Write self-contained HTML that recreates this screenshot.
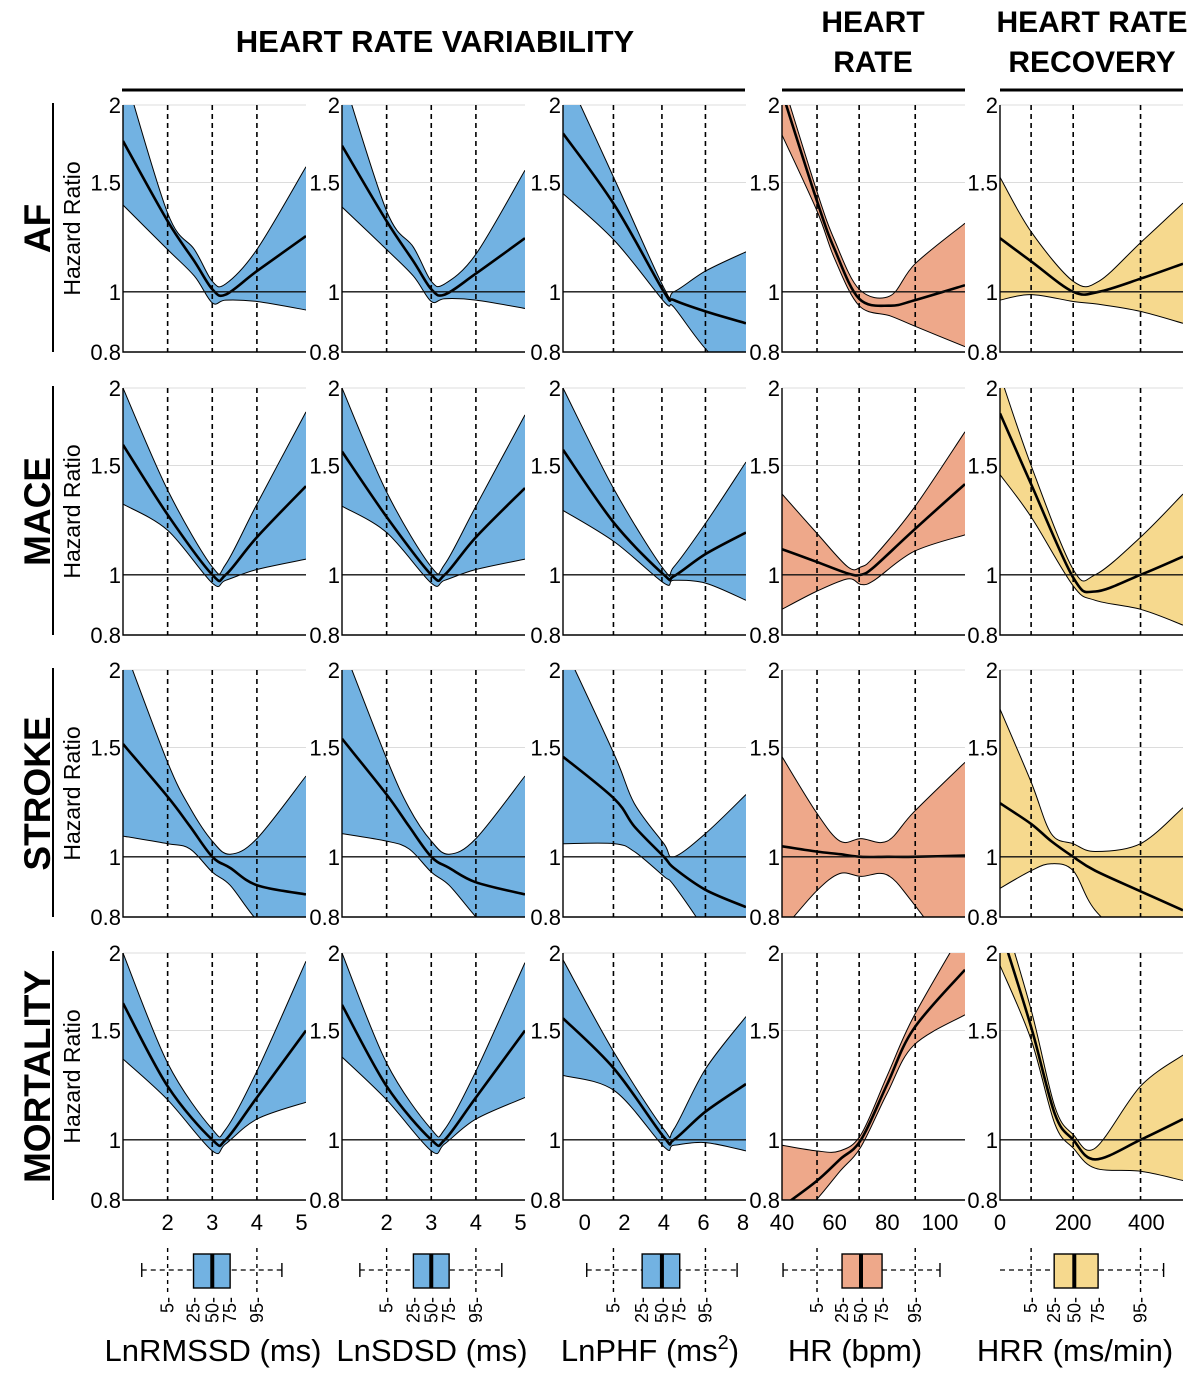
<!DOCTYPE html>
<html><head><meta charset="utf-8"><style>
html,body{margin:0;padding:0;background:#fff;}
svg{display:block;font-family:"Liberation Sans",Arial,sans-serif;}
</style></head><body>
<svg id="fig" width="1200" height="1373" viewBox="0 0 1200 1373"></svg>
<script>
// ---------- data (hazard ratios) ----------
// AF row
const AF_RMSSD_x=[1.0,2,2.6,3,3.3,4,5.1];
const AF_RMSSD_hr=[1.75,1.30,1.12,1.01,0.99,1.08,1.23];
const AF_RMSSD_lo=[1.38,1.17,1.06,0.96,0.97,0.965,0.935];
const AF_RMSSD_hi=[2.3,1.34,1.17,1.04,1.03,1.17,1.59];
const AF_SDSD_x=[1.0,2,2.6,3,3.3,4,5.1];
const AF_SDSD_hr=[1.72,1.30,1.12,1.01,0.99,1.07,1.22];
const AF_SDSD_lo=[1.37,1.17,1.06,0.965,0.975,0.97,0.94];
const AF_SDSD_hi=[2.25,1.35,1.18,1.04,1.03,1.15,1.57];
const AF_PHF_x=[-1.1,1.5,4,4.5,6.1,8.15];
const AF_PHF_hr=[1.80,1.38,1.0,0.97,0.93,0.89];
const AF_PHF_lo=[1.44,1.21,0.965,0.945,0.81,0.70];
const AF_PHF_hi=[2.3,1.52,1.015,1.0,1.08,1.16];
const AF_HR_x=[40,53.3,60,69.3,81,90.6,109.5];
const AF_HR_hr=[2.1,1.40,1.17,0.975,0.95,0.97,1.025];
const AF_HR_lo=[1.79,1.35,1.13,0.95,0.915,0.88,0.816];
const AF_HR_hi=[2.2,1.45,1.21,1.01,0.985,1.11,1.29];
const AF_HRR_x=[0,85,200,270,384,500];
const AF_HRR_hr=[1.22,1.12,1.0,1.0,1.05,1.11];
const AF_HRR_lo=[0.97,0.99,0.965,0.955,0.93,0.89];
const AF_HRR_hi=[1.53,1.25,1.04,1.04,1.2,1.39];
// MACE row
const MACE_RMSSD_x=[1.0,2,3,3.3,4,5.1];
const MACE_RMSSD_hr=[1.62,1.25,1.0,1.0,1.15,1.39];
const MACE_RMSSD_lo=[1.30,1.18,0.97,0.98,1.02,1.06];
const MACE_RMSSD_hi=[2.0,1.37,1.03,1.04,1.30,1.83];
const MACE_SDSD_x=[1.0,2,3,3.3,4,5.1];
const MACE_SDSD_hr=[1.58,1.24,1.0,1.0,1.15,1.38];
const MACE_SDSD_lo=[1.29,1.17,0.97,0.98,1.02,1.06];
const MACE_SDSD_hi=[2.0,1.36,1.03,1.04,1.29,1.81];
const MACE_PHF_x=[-1.1,1.5,4,4.5,6.1,8.15];
const MACE_PHF_hr=[1.59,1.21,1.0,0.995,1.08,1.17];
const MACE_PHF_lo=[1.27,1.13,0.97,0.98,0.97,0.91];
const MACE_PHF_hi=[2.0,1.37,1.02,1.03,1.21,1.52];
const MACE_HR_x=[40,53,65,70,75,90,109.5];
const MACE_HR_hr=[1.10,1.05,1.005,1.0,1.03,1.18,1.40];
const MACE_HR_lo=[0.88,0.94,0.985,0.965,0.98,1.09,1.16];
const MACE_HR_hi=[1.35,1.17,1.03,1.03,1.07,1.28,1.70];
const MACE_HRR_x=[0,85,200,260,384,500];
const MACE_HRR_hr=[1.82,1.40,0.99,0.94,1.0,1.07];
const MACE_HRR_lo=[1.45,1.24,0.96,0.91,0.88,0.83];
const MACE_HRR_hi=[2.1,1.50,1.02,1.0,1.15,1.35];
// STROKE row
const STROKE_RMSSD_x=[1.0,2,2.5,3,3.4,4,5.1];
const STROKE_RMSSD_hr=[1.52,1.25,1.12,1.0,0.96,0.90,0.87];
const STROKE_RMSSD_lo=[1.08,1.05,1.03,0.945,0.90,0.79,0.65];
const STROKE_RMSSD_hi=[2.2,1.42,1.2,1.06,1.01,1.07,1.35];
const STROKE_SDSD_x=[1.0,2,2.5,3,3.4,4,5.1];
const STROKE_SDSD_hr=[1.55,1.26,1.12,1.0,0.96,0.91,0.87];
const STROKE_SDSD_lo=[1.09,1.06,1.03,0.945,0.90,0.80,0.65];
const STROKE_SDSD_hi=[2.2,1.44,1.2,1.06,1.01,1.07,1.35];
const STROKE_PHF_x=[-1.1,1.5,2.5,4,4.5,6.1,8.15];
const STROKE_PHF_hr=[1.45,1.24,1.12,1.0,0.96,0.885,0.83];
const STROKE_PHF_lo=[1.05,1.05,1.02,0.93,0.90,0.76,0.6];
const STROKE_PHF_hi=[2.2,1.46,1.22,1.05,1.0,1.09,1.26];
const STROKE_HR_x=[40,53,62,70,80,90,109.5];
const STROKE_HR_hr=[1.04,1.02,1.01,1.0,1.0,1.0,1.005];
const STROKE_HR_lo=[0.76,0.88,0.94,0.93,0.935,0.84,0.65];
const STROKE_HR_hi=[1.45,1.18,1.06,1.07,1.06,1.18,1.42];
const STROKE_HRR_x=[0,85,140,200,260,384,500];
const STROKE_HRR_hr=[1.22,1.13,1.06,1.0,0.95,0.88,0.82];
const STROKE_HRR_lo=[0.89,0.95,0.975,0.95,0.82,0.7,0.6];
const STROKE_HRR_hi=[1.73,1.32,1.09,1.05,1.02,1.05,1.2];
// MORTALITY row
const MORT_RMSSD_x=[1.0,2,3,3.3,4,5.1];
const MORT_RMSSD_hr=[1.66,1.22,1.0,1.0,1.17,1.50];
const MORT_RMSSD_lo=[1.35,1.16,0.96,0.985,1.08,1.15];
const MORT_RMSSD_hi=[2.0,1.33,1.04,1.04,1.29,1.94];
const MORT_SDSD_x=[1.0,2,3,3.3,4,5.1];
const MORT_SDSD_hr=[1.65,1.22,1.0,1.0,1.17,1.50];
const MORT_SDSD_lo=[1.36,1.16,0.96,0.985,1.08,1.17];
const MORT_SDSD_hi=[2.0,1.33,1.04,1.04,1.29,1.93];
const MORT_PHF_x=[-1.1,1.5,4,4.5,6.1,8.15];
const MORT_PHF_hr=[1.57,1.30,1.01,1.0,1.11,1.23];
const MORT_PHF_lo=[1.27,1.2,0.975,0.98,0.99,0.96];
const MORT_PHF_hi=[1.95,1.38,1.04,1.04,1.30,1.58];
const MORT_HR_x=[40,53,62,70,80,90,109.5];
const MORT_HR_hr=[0.78,0.857,0.93,1.0,1.23,1.51,1.88];
const MORT_HR_lo=[0.70,0.8,0.89,0.975,1.19,1.42,1.59];
const MORT_HR_hi=[0.98,0.96,0.96,1.02,1.27,1.58,2.2];
const MORT_HRR_x=[0,85,150,200,260,384,500];
const MORT_HRR_hr=[2.2,1.52,1.1,1.0,0.93,1.0,1.08];
const MORT_HRR_lo=[1.91,1.45,1.06,0.97,0.9,0.89,0.86];
const MORT_HRR_hi=[2.4,1.62,1.13,1.02,0.97,1.22,1.37];

// column axis info
const colNames=["LnRMSSD","LnSDSD","LnPHF","HR","HRR"];
const colDomains=[[1.0,5.1],[1.0,5.1],[-1.1,8.15],[40,109.5],[0,500]];
const colTicks=[[2,3,4,5],[2,3,4,5],[0,2,4,6,8],[40,60,80,100],[0,200,400]];
const colPct=[[2.0,3.0,4.0],[2.0,3.0,4.0],[1.45,3.9,6.1],[53.3,69.3,90.6],[85,200,384]];
const colBox=[[1.42,2.58,3.0,3.4,4.56],[1.4,2.6,3.0,3.4,4.58],[0.1,2.9,3.9,4.8,7.7],[40.4,62.8,70,78,100],[0,148,203,268,447]];
const rowNames=["AF","MACE","STROKE","MORTALITY"];
const yTicks=[2,1.5,1,0.8];
const yTickLabels=["2","1.5","1","0.8"];
const boxLabels=["5","25","50","75","95"];

const panels=[
 [[AF_RMSSD_x,AF_RMSSD_hr,AF_RMSSD_lo,AF_RMSSD_hi],[AF_SDSD_x,AF_SDSD_hr,AF_SDSD_lo,AF_SDSD_hi],[AF_PHF_x,AF_PHF_hr,AF_PHF_lo,AF_PHF_hi],[AF_HR_x,AF_HR_hr,AF_HR_lo,AF_HR_hi],[AF_HRR_x,AF_HRR_hr,AF_HRR_lo,AF_HRR_hi]],
 [[MACE_RMSSD_x,MACE_RMSSD_hr,MACE_RMSSD_lo,MACE_RMSSD_hi],[MACE_SDSD_x,MACE_SDSD_hr,MACE_SDSD_lo,MACE_SDSD_hi],[MACE_PHF_x,MACE_PHF_hr,MACE_PHF_lo,MACE_PHF_hi],[MACE_HR_x,MACE_HR_hr,MACE_HR_lo,MACE_HR_hi],[MACE_HRR_x,MACE_HRR_hr,MACE_HRR_lo,MACE_HRR_hi]],
 [[STROKE_RMSSD_x,STROKE_RMSSD_hr,STROKE_RMSSD_lo,STROKE_RMSSD_hi],[STROKE_SDSD_x,STROKE_SDSD_hr,STROKE_SDSD_lo,STROKE_SDSD_hi],[STROKE_PHF_x,STROKE_PHF_hr,STROKE_PHF_lo,STROKE_PHF_hi],[STROKE_HR_x,STROKE_HR_hr,STROKE_HR_lo,STROKE_HR_hi],[STROKE_HRR_x,STROKE_HRR_hr,STROKE_HRR_lo,STROKE_HRR_hi]],
 [[MORT_RMSSD_x,MORT_RMSSD_hr,MORT_RMSSD_lo,MORT_RMSSD_hi],[MORT_SDSD_x,MORT_SDSD_hr,MORT_SDSD_lo,MORT_SDSD_hi],[MORT_PHF_x,MORT_PHF_hr,MORT_PHF_lo,MORT_PHF_hi],[MORT_HR_x,MORT_HR_hr,MORT_HR_lo,MORT_HR_hi],[MORT_HRR_x,MORT_HRR_hr,MORT_HRR_lo,MORT_HRR_hi]]
];

// ---------- layout ----------
const rowTop=[105,388,670,953];
const PH=247, PW=183;
const colLeft=[123,342,563,782,1000];
const fills=["#72b2e2","#72b2e2","#72b2e2","#eea88a","#f6d98e"];
const NS="http://www.w3.org/2000/svg";
const svg=document.getElementById("fig");
function mk(tag,attrs,parent){const e=document.createElementNS(NS,tag);for(const k in attrs)e.setAttribute(k,attrs[k]);(parent||svg).appendChild(e);return e;}
function xScale(c,v){const d=colDomains[c];return colLeft[c]+(v-d[0])/(d[1]-d[0])*PW;}
function yScale(r,hr){return rowTop[r]+PH-PH*Math.log(hr/0.8)/Math.log(2/0.8);}
function smooth(pts){let d="M"+pts[0][0].toFixed(1)+","+pts[0][1].toFixed(1);
 for(let i=0;i<pts.length-1;i++){const p0=pts[Math.max(0,i-1)],p1=pts[i],p2=pts[i+1],p3=pts[Math.min(pts.length-1,i+2)];
  const c1=[p1[0]+(p2[0]-p0[0])/6,p1[1]+(p2[1]-p0[1])/6],c2=[p2[0]-(p3[0]-p1[0])/6,p2[1]-(p3[1]-p1[1])/6];
  d+=" C"+c1[0].toFixed(1)+","+c1[1].toFixed(1)+" "+c2[0].toFixed(1)+","+c2[1].toFixed(1)+" "+p2[0].toFixed(1)+","+p2[1].toFixed(1);}
 return d;}
function txt(s,attrs,parent){const t=mk("text",attrs,parent);t.textContent=s;return t;}

const defs=mk("defs",{});
// headers
const h1=txt("HEART RATE VARIABILITY",{x:435,y:52,"text-anchor":"middle","font-size":31,"font-weight":"bold"});


const h2=mk("g",{"text-anchor":"middle","font-size":30,"font-weight":"bold"});


txt("HEART",{x:873,y:32},h2);txt("RATE",{x:873,y:72},h2);
const h3=mk("g",{"text-anchor":"middle","font-size":30,"font-weight":"bold"});


txt("HEART RATE",{x:1092,y:32},h3);txt("RECOVERY",{x:1092,y:72},h3);
[[122,745],[782,965],[1000,1183]].forEach(function(s){const l=mk("line",{x1:s[0],x2:s[1],y1:90,y2:90,stroke:"#000","stroke-width":3});
 
 });

// row labels
for(let r=0;r<4;r++){const cy=rowTop[r]+PH/2;
 const t=txt(rowNames[r],{x:0,y:0,transform:"translate(50,"+cy+") rotate(-90)","text-anchor":"middle","font-size":37,"font-weight":"bold"});
 
 
 const l=mk("line",{x1:53,x2:53,y1:rowTop[r]-2,y2:rowTop[r]+PH,stroke:"#000","stroke-width":2});
 
 
 const ya=txt("Hazard Ratio",{x:0,y:0,transform:"translate(80,"+cy+") rotate(-90)","text-anchor":"middle","font-size":23});
 
 
}

// panels
for(let r=0;r<4;r++)for(let c=0;c<5;c++){
 const g=mk("g",{});
 
 
 const L=colLeft[c],T=rowTop[r],B=T+PH,R=L+PW;
 const cp=mk("clipPath",{id:"cp"+r+c},defs);mk("rect",{x:L,y:T,width:PW,height:PH},cp);
 [2,1.5].forEach(function(v){const gl=mk("line",{x1:L,x2:R,y1:yScale(r,v),y2:yScale(r,v),stroke:"#dcdcdc","stroke-width":1},g);
  
  });
 const d=panels[r][c],xs=d[0];
 const up=xs.map(function(x,i){return [xScale(c,x),yScale(r,d[3][i])];});
 const lo=xs.map(function(x,i){return [xScale(c,x),yScale(r,d[2][i])];});
 const mean=xs.map(function(x,i){return [xScale(c,x),yScale(r,d[1][i])];});
 const cg=mk("g",{"clip-path":"url(#cp"+r+c+")"},g);
 const loRev=lo.slice().reverse();
 const band=mk("path",{d:smooth(up)+" L"+loRev[0][0]+","+loRev[0][1]+smooth(loRev).replace(/^M[^ C]+/,"")+" Z",fill:fills[c],stroke:"none"},cg);
 
 
 const e1=mk("path",{d:smooth(up),fill:"none",stroke:"#000","stroke-width":1},cg);
 
 
 const e2=mk("path",{d:smooth(lo),fill:"none",stroke:"#000","stroke-width":1},cg);
 
 
 const ref=mk("line",{x1:L,x2:R,y1:yScale(r,1),y2:yScale(r,1),stroke:"#111","stroke-width":1.4},g);
 
 
 colPct[c].forEach(function(p){const dl=mk("line",{x1:xScale(c,p),x2:xScale(c,p),y1:T,y2:B,stroke:"#000","stroke-width":1.6,"stroke-dasharray":"5,4"},g);
  
  });
 const ml=mk("path",{d:smooth(mean),fill:"none",stroke:"#000","stroke-width":2.6},cg);
 
 
 const ax=mk("path",{d:"M"+L+","+T+" L"+L+","+B+" L"+R+","+B,fill:"none",stroke:"#000","stroke-width":1.4},g);
 
 
 yTicks.forEach(function(v,i){const t=txt(yTickLabels[i],{x:L-2,y:yScale(r,v)+8,"text-anchor":"end","font-size":22},g);
  
  });
 if(r===3){colTicks[c].forEach(function(v){const t=txt(String(v),{x:xScale(c,v),y:1230,"text-anchor":"middle","font-size":22},g);
  
  });}
}

// box plots + x labels
const xl=["LnRMSSD (ms)","LnSDSD (ms)",null,"HR (bpm)","HRR (ms/min)"];
const xlc=[213,432,650,855,1075];
for(let c=0;c<5;c++){
 const g=mk("g",{});
 
 
 const b=colBox[c],p=colPct[c];
 const wl=mk("line",{x1:xScale(c,b[0]),x2:xScale(c,b[4]),y1:1270,y2:1270,stroke:"#000","stroke-width":1.2,"stroke-dasharray":"5,4"},g);
 
 
 [b[0],b[4]].forEach(function(v,i){if(c===4&&i===0)return;const cap=mk("line",{x1:xScale(c,v),x2:xScale(c,v),y1:1263,y2:1277,stroke:"#000","stroke-width":1.4},g);
  
  });
 [p[0],p[2]].forEach(function(v){const dl=mk("line",{x1:xScale(c,v),x2:xScale(c,v),y1:1248,y2:1294,stroke:"#000","stroke-width":1.4,"stroke-dasharray":"4,4"},g);
  
  });
 const bx=mk("rect",{x:xScale(c,b[1]),y:1254,width:xScale(c,b[3])-xScale(c,b[1]),height:34,fill:fills[c],stroke:"#000","stroke-width":1.4},g);
 
 
 const md=mk("line",{x1:xScale(c,b[2]),x2:xScale(c,b[2]),y1:1254,y2:1288,stroke:"#000","stroke-width":4},g);
 
 
 const lp=[p[0],b[1],b[2],b[3],p[2]];
 lp.forEach(function(v,i){const t=txt(boxLabels[i]+"-",{x:0,y:0,transform:"translate("+(xScale(c,v)+6)+",1297) rotate(-90)","text-anchor":"end","font-size":18},g);
  
  });
 let t;
 if(xl[c]){t=txt(xl[c],{x:xlc[c],y:1361,"text-anchor":"middle","font-size":31},g);}
 else{t=mk("text",{x:xlc[c],y:1361,"text-anchor":"middle","font-size":31},g);
  const s1=mk("tspan",{},t);s1.textContent="LnPHF (ms";
  const s2=mk("tspan",{dy:-12,"font-size":20},t);s2.textContent="2";
  const s3=mk("tspan",{dy:12},t);s3.textContent=")";}
 
 
}
</script>
</body></html>
